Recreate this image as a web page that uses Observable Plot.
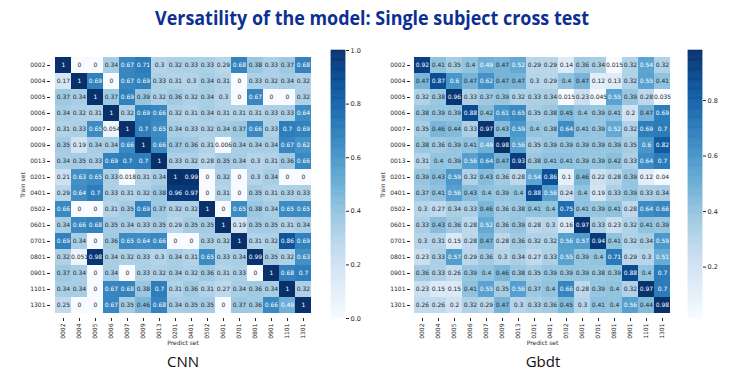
<!DOCTYPE html>
<html>
<head>
<meta charset="utf-8">
<script src="https://cdn.jsdelivr.net/npm/d3@7"></script>
<script src="https://cdn.jsdelivr.net/npm/@observablehq/plot@0.6"></script>
<style>
  html, body { margin: 0; padding: 0; background: #fff; }
  #root { position: relative; width: 744px; height: 376px; overflow: hidden; background: #fff; }
  #root > * { position: absolute; }
  .sub { font-family: "Open Sans", "Noto Sans", sans-serif; font-size: 15px; color: #111; width: 200px; text-align: center; top: 351px; }
</style>
</head>
<body>
<div id="root"></div>
<script>
const labels = ["0002","0004","0005","0006","0007","0009","0013","0201","0401","0502","0601","0701","0801","0901","1101","1301"];

// CNN matrix: rows = train set, columns = predict set
const cnn = [
  [1, 0, 0, 0.34, 0.67, 0.71, 0.3, 0.32, 0.33, 0.33, 0.29, 0.68, 0.38, 0.33, 0.37, 0.68],
  [0.17, 1, 0.69, 0, 0.67, 0.69, 0.33, 0.31, 0.3, 0.34, 0.31, 0, 0.33, 0.32, 0.34, 0.32],
  [0.37, 0.34, 1, 0.37, 0.69, 0.39, 0.32, 0.36, 0.32, 0.34, 0.3, 0, 0.67, 0, 0, 0.32],
  [0.34, 0.32, 0.31, 1, 0.32, 0.69, 0.66, 0.32, 0.31, 0.34, 0.31, 0.31, 0.31, 0.33, 0.33, 0.64],
  [0.31, 0.33, 0.65, 0.054, 1, 0.7, 0.65, 0.34, 0.33, 0.32, 0.34, 0.37, 0.66, 0.33, 0.7, 0.69],
  [0.35, 0.19, 0.34, 0.34, 0.66, 1, 0.66, 0.37, 0.36, 0.31, 0.006, 0.34, 0.34, 0.34, 0.67, 0.62],
  [0.34, 0.35, 0.33, 0.69, 0.7, 0.7, 1, 0.33, 0.32, 0.28, 0.35, 0.34, 0.3, 0.31, 0.36, 0.66],
  [0.21, 0.63, 0.65, 0.33, 0.018, 0.31, 0.34, 1, 0.99, 0, 0.32, 0, 0.3, 0.34, 0, 0],
  [0.29, 0.64, 0.7, 0.33, 0.31, 0.32, 0.38, 0.96, 0.97, 0, 0.31, 0, 0.35, 0.31, 0.33, 0.33],
  [0.66, 0, 0, 0.31, 0.35, 0.69, 0.37, 0.32, 0.32, 1, 0, 0.65, 0.38, 0.34, 0.65, 0.65],
  [0.34, 0.66, 0.68, 0.35, 0.34, 0.33, 0.35, 0.29, 0.35, 0.35, 1, 0.19, 0.35, 0.35, 0.31, 0.34],
  [0.69, 0.34, 0, 0.36, 0.65, 0.64, 0.66, 0, 0, 0.33, 0.32, 1, 0.31, 0.32, 0.86, 0.69],
  [0.32, 0.051, 0.98, 0.34, 0.32, 0.33, 0.3, 0.34, 0.31, 0.65, 0.33, 0.34, 0.99, 0.35, 0.32, 0.63],
  [0.37, 0.34, 0, 0.34, 0, 0.33, 0.32, 0.34, 0.32, 0.36, 0.31, 0.33, 0, 1, 0.68, 0.7],
  [0.34, 0.34, 0, 0.67, 0.68, 0.38, 0.7, 0.31, 0.36, 0.31, 0.27, 0.34, 0.36, 0.34, 1, 0.32],
  [0.25, 0, 0, 0.67, 0.35, 0.46, 0.68, 0.34, 0.35, 0.35, 0, 0.37, 0.36, 0.66, 0.49, 1]
];

// Gbdt matrix
const gbdt = [
  [0.92, 0.41, 0.35, 0.4, 0.49, 0.47, 0.52, 0.29, 0.29, 0.14, 0.36, 0.34, 0.015, 0.32, 0.54, 0.32],
  [0.47, 0.87, 0.6, 0.47, 0.62, 0.47, 0.47, 0.3, 0.29, 0.4, 0.47, 0.12, 0.13, 0.32, 0.55, 0.41],
  [0.32, 0.38, 0.96, 0.33, 0.37, 0.39, 0.32, 0.33, 0.34, 0.015, 0.23, 0.045, 0.55, 0.39, 0.28, 0.035],
  [0.38, 0.39, 0.39, 0.88, 0.42, 0.61, 0.65, 0.35, 0.38, 0.45, 0.4, 0.39, 0.41, 0.2, 0.47, 0.69],
  [0.35, 0.46, 0.44, 0.33, 0.97, 0.43, 0.59, 0.4, 0.38, 0.64, 0.41, 0.39, 0.52, 0.32, 0.69, 0.7],
  [0.38, 0.36, 0.39, 0.41, 0.49, 0.98, 0.56, 0.35, 0.39, 0.39, 0.39, 0.39, 0.39, 0.35, 0.6, 0.82],
  [0.31, 0.4, 0.39, 0.56, 0.64, 0.47, 0.93, 0.38, 0.41, 0.41, 0.39, 0.39, 0.42, 0.33, 0.64, 0.7],
  [0.39, 0.43, 0.59, 0.32, 0.43, 0.36, 0.28, 0.54, 0.86, 0.1, 0.46, 0.22, 0.28, 0.39, 0.12, 0.04],
  [0.37, 0.41, 0.56, 0.43, 0.4, 0.39, 0.4, 0.88, 0.56, 0.24, 0.4, 0.19, 0.33, 0.39, 0.33, 0.34],
  [0.3, 0.27, 0.34, 0.33, 0.46, 0.36, 0.38, 0.41, 0.4, 0.75, 0.41, 0.39, 0.41, 0.28, 0.64, 0.66],
  [0.33, 0.43, 0.36, 0.28, 0.52, 0.36, 0.39, 0.28, 0.3, 0.16, 0.97, 0.33, 0.23, 0.32, 0.41, 0.39],
  [0.3, 0.31, 0.15, 0.28, 0.47, 0.28, 0.36, 0.32, 0.32, 0.56, 0.57, 0.94, 0.41, 0.32, 0.34, 0.59],
  [0.23, 0.33, 0.57, 0.29, 0.36, 0.3, 0.34, 0.27, 0.33, 0.55, 0.39, 0.4, 0.71, 0.29, 0.3, 0.51],
  [0.36, 0.33, 0.26, 0.39, 0.4, 0.46, 0.38, 0.35, 0.39, 0.39, 0.39, 0.38, 0.39, 0.88, 0.4, 0.7],
  [0.23, 0.15, 0.15, 0.41, 0.55, 0.35, 0.56, 0.37, 0.4, 0.66, 0.28, 0.39, 0.4, 0.32, 0.97, 0.7],
  [0.26, 0.26, 0.2, 0.32, 0.29, 0.47, 0.3, 0.33, 0.36, 0.45, 0.3, 0.41, 0.4, 0.56, 0.44, 0.98]
];

const cnnDomain = [0, 1];
const gbdtDomain = [0.015, 0.98];
const cnnTicks = [0, 0.2, 0.4, 0.6, 0.8, 1.0];
const gbdtTicks = [0.2, 0.4, 0.6, 0.8];

const fmt = d3.format(".2~g");
const ink = "#262626";

function heatmap(matrix, domain, cellW) {
  const data = matrix.flatMap((row, i) => row.map((v, j) => ({train: labels[i], predict: labels[j], v})));
  const t = v => (v - domain[0]) / (domain[1] - domain[0]);
  return Plot.plot({
    width: 50 + cellW + 15, height: 376,
    marginLeft: 50, marginRight: 15, marginTop: 51, marginBottom: 58,
    style: {fontFamily: "DejaVu Sans", fontSize: "6px", color: ink, background: "transparent", overflow: "visible"},
    x: {domain: labels, padding: 0},
    y: {domain: labels, padding: 0},
    color: {type: "linear", scheme: "blues", domain},
    marks: [
      Plot.cell(data, {x: "predict", y: "train", fill: "v"}),
      Plot.text(data.filter(d => t(d.v) > 0.48), {x: "predict", y: "train", text: d => fmt(d.v), fill: "white", fontSize: 6}),
      Plot.text(data.filter(d => t(d.v) <= 0.48), {x: "predict", y: "train", text: d => fmt(d.v), fill: ink, fontSize: 6}),
      Plot.axisX({tickRotate: -90, tickSize: 3, tickPadding: 2, label: "Predict set", labelAnchor: "center", labelOffset: 26}),
      Plot.axisY({tickSize: 3, tickPadding: 2, label: "Train set", labelAnchor: "center", labelOffset: 30})
    ]
  });
}

function colorbar(domain, ticks) {
  const n = 240;
  const step = (domain[1] - domain[0]) / n;
  const steps = d3.range(n).map(i => domain[0] + i * step);
  return Plot.plot({
    width: 40, height: 376,
    marginLeft: 0, marginRight: 26, marginTop: 50, marginBottom: 58,
    style: {fontFamily: "DejaVu Sans", fontSize: "6.5px", color: ink, background: "transparent", overflow: "visible"},
    x: {domain: [0, 1], axis: null},
    y: {domain, axis: null},
    color: {type: "linear", scheme: "blues", domain},
    marks: [
      Plot.rect(steps, {x1: 0, x2: 1, y1: d => d, y2: d => d + step, fill: d => d, stroke: d => d, strokeWidth: 0.6}),
      Plot.axisY({anchor: "right", ticks, tickFormat: d3.format(".1f"), tickSize: 3, tickPadding: 2, label: null})
    ]
  });
}

const root = document.getElementById("root");

// title
const ns = "http://www.w3.org/2000/svg";
const tsvg = document.createElementNS(ns, "svg");
tsvg.setAttribute("width", 744); tsvg.setAttribute("height", 36);
tsvg.style.left = "0px"; tsvg.style.top = "0px";
const tt = document.createElementNS(ns, "text");
tt.setAttribute("x", 372); tt.setAttribute("y", 25);
tt.setAttribute("text-anchor", "middle");
tt.setAttribute("font-family", "Open Sans, Noto Sans, sans-serif");
tt.setAttribute("font-weight", "bold");
tt.setAttribute("font-size", "20");
tt.setAttribute("fill", "#0d2f93");
tt.setAttribute("textLength", 434);
tt.setAttribute("lengthAdjust", "spacingAndGlyphs");
tt.textContent = "Versatility of the model: Single subject cross test";
tsvg.appendChild(tt);
root.appendChild(tsvg);

const h1 = heatmap(cnn, cnnDomain, 265);
h1.style.left = "0px"; h1.style.top = "0px";
root.appendChild(h1);

const c1 = colorbar(cnnDomain, cnnTicks);
c1.style.left = "331px"; c1.style.top = "0px";
root.appendChild(c1);

const h2 = heatmap(gbdt, gbdtDomain, 264);
h2.style.left = "360px"; h2.style.top = "0px";
root.appendChild(h2);

const c2 = colorbar(gbdtDomain, gbdtTicks);
c2.style.left = "688px"; c2.style.top = "0px";
root.appendChild(c2);

// subtitles
const s1 = document.createElement("div");
s1.className = "sub"; s1.textContent = "CNN"; s1.style.left = (183 - 100) + "px";
root.appendChild(s1);
const s2 = document.createElement("div");
s2.className = "sub"; s2.textContent = "Gbdt"; s2.style.left = (543 - 100) + "px";
root.appendChild(s2);
</script>
</body>
</html>
